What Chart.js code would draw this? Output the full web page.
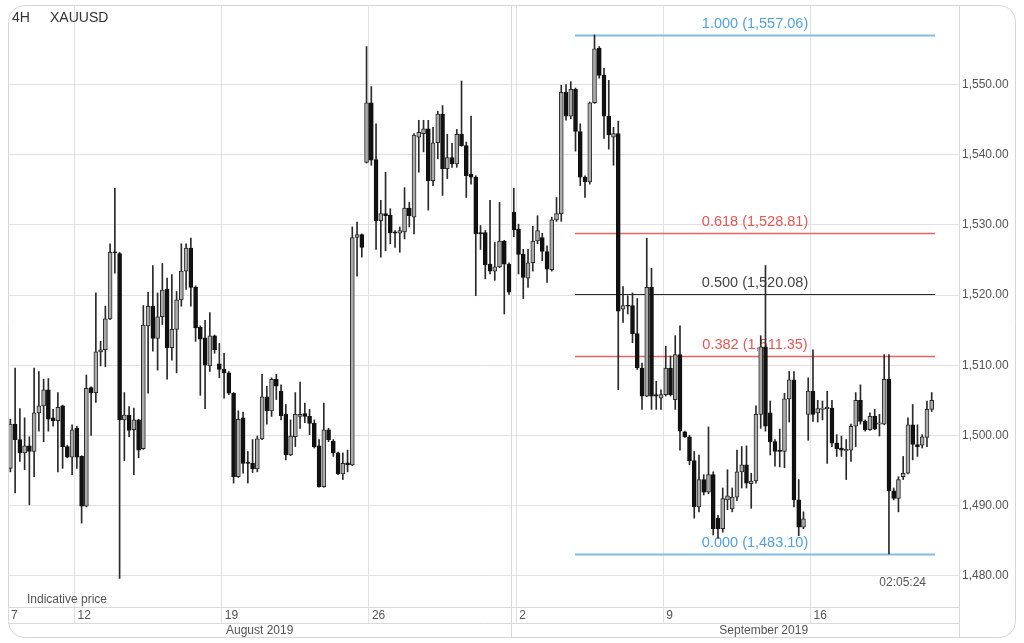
<!DOCTYPE html>
<html lang="en">
<head>
    <meta charset="UTF-8">
    <title>4H XAUUSD</title>
    <!-- Include Chart.js library -->
    <script src="https://cdn.jsdelivr.net/npm/chart.js"></script>
    <style>
        html, body { margin: 0; padding: 0; background: #fff; }
        #wrap { width: 1024px; height: 643px; }
    </style>
</head>
<body>
    <div id="wrap"><canvas id="chart" width="1024" height="643"></canvas></div>

    <script>
        // 4H candles, one entry per candle (index 0 = first candle on the left)
        const opens = [
            1495.3, 1501.6, 1499.4, 1497.5, 1498.5, 1497.7, 1503.2, 1504.2, 1506.5, 1502.5,
            1502.1, 1504.2, 1498.4, 1496.9, 1501.0, 1497.0, 1489.9, 1506.8, 1506.1, 1511.9,
            1512.2, 1516.6, 1526.1, 1525.9, 1502.2, 1502.9, 1500.8, 1502.2, 1498.1, 1515.6,
            1518.4, 1513.8, 1516.9, 1520.8, 1512.5, 1515.1, 1519.3, 1523.4, 1526.7, 1521.1,
            1515.4, 1513.9, 1509.9, 1514.2, 1510.2, 1509.4, 1508.9, 1506.0, 1494.1, 1502.5,
            1496.1, 1496.0, 1495.2, 1499.5, 1505.5, 1503.5, 1508.0, 1506.3, 1503.0, 1497.2,
            1499.8, 1502.7, 1503.1, 1502.7, 1501.7, 1498.5, 1492.7, 1500.8, 1499.2, 1497.5,
            1494.5, 1496.1, 1495.8, 1528.2, 1528.6, 1538.9, 1547.4, 1539.3, 1530.6, 1531.6,
            1531.4, 1529.0, 1528.8, 1529.0, 1532.4, 1531.1, 1542.5, 1543.0, 1543.7, 1536.3,
            1541.7, 1545.8, 1538.0, 1539.6, 1538.7, 1542.9, 1541.3, 1537.2, 1536.8, 1528.9,
            1528.9, 1524.4, 1523.4, 1524.0, 1527.7, 1524.4, 1531.8, 1529.4, 1525.8, 1522.4,
            1524.6, 1527.7, 1528.2, 1526.2, 1523.6, 1530.7, 1531.6, 1548.9, 1545.5, 1549.3,
            1543.3, 1536.8, 1536.1, 1547.4, 1555.2, 1551.3, 1545.5, 1542.5, 1543.0, 1518.0,
            1518.5, 1518.5, 1514.5, 1509.6, 1505.6, 1521.1, 1505.8, 1505.3, 1505.8, 1509.6,
            1505.1, 1511.5, 1500.5, 1499.8, 1496.4, 1489.8, 1493.7, 1491.9, 1494.4, 1488.2,
            1486.7, 1490.8, 1489.5, 1491.2, 1494.8, 1495.8, 1493.1, 1493.5, 1503.0, 1512.6,
            1503.2, 1499.1, 1497.9, 1497.7, 1505.2, 1507.9, 1490.8, 1486.9, 1503.0, 1506.3,
            1503.2, 1503.7, 1503.8, 1503.9, 1498.9, 1498.2, 1497.8, 1497.9, 1501.3, 1505.0,
            1502.0, 1500.8, 1502.7, 1501.6, 1501.6, 1508.0, 1492.1, 1491.0, 1494.1, 1494.6,
            1501.5, 1498.7, 1498.6, 1499.7, 1503.7
        ];
        const highs = [
            1502.3, 1509.6, 1503.8, 1502.5, 1499.8, 1509.6, 1509.1, 1508.0, 1508.1, 1503.7,
            1506.1, 1504.3, 1498.6, 1501.5, 1501.3, 1497.1, 1508.6, 1506.9, 1520.3, 1513.4,
            1518.4, 1527.3, 1535.2, 1526.1, 1506.1, 1504.1, 1503.9, 1502.3, 1518.5, 1520.4,
            1524.2, 1520.3, 1524.5, 1522.4, 1522.9, 1520.5, 1527.3, 1527.3, 1528.1, 1521.3,
            1515.6, 1516.4, 1517.5, 1514.3, 1513.1, 1511.7, 1509.1, 1506.1, 1503.5, 1503.3,
            1497.7, 1499.4, 1499.9, 1508.7, 1507.0, 1508.2, 1508.7, 1507.2, 1504.4, 1502.2,
            1506.1, 1507.6, 1504.6, 1503.7, 1502.2, 1499.4, 1504.6, 1501.0, 1499.4, 1497.6,
            1497.5, 1497.9, 1529.7, 1530.4, 1528.7, 1555.4, 1549.7, 1544.4, 1533.5, 1537.5,
            1532.3, 1529.2, 1529.7, 1535.3, 1533.2, 1543.0, 1544.9, 1544.9, 1544.9, 1543.9,
            1546.2, 1547.0, 1542.9, 1541.6, 1543.6, 1550.5, 1541.8, 1545.5, 1537.0, 1529.9,
            1529.2, 1533.5, 1527.5, 1533.2, 1527.8, 1524.6, 1535.2, 1530.1, 1526.5, 1526.5,
            1529.8, 1531.3, 1528.8, 1527.0, 1531.1, 1533.9, 1549.9, 1550.0, 1550.4, 1549.5,
            1544.4, 1537.0, 1547.5, 1557.06, 1555.4, 1552.3, 1550.6, 1543.9, 1544.8, 1521.2,
            1519.9, 1520.3, 1519.5, 1510.3, 1528.1, 1523.8, 1507.7, 1506.5, 1512.7, 1511.3,
            1514.2, 1515.6, 1500.6, 1500.0, 1497.7, 1497.2, 1494.4, 1501.2, 1494.8, 1488.6,
            1492.5, 1495.1, 1492.5, 1497.9, 1498.4, 1498.5, 1494.6, 1504.2, 1514.2, 1524.2,
            1504.9, 1499.4, 1500.9, 1506.0, 1509.1, 1509.1, 1493.7, 1489.1, 1508.2, 1512.2,
            1505.0, 1504.9, 1506.3, 1505.0, 1500.1, 1499.9, 1499.4, 1501.6, 1506.1, 1507.2,
            1502.2, 1503.2, 1503.7, 1503.0, 1511.5, 1511.5, 1492.5, 1494.1, 1497.0, 1502.5,
            1504.4, 1501.5, 1500.1, 1504.9, 1506.1
        ];
        const lows = [
            1494.8, 1491.8, 1496.3, 1495.1, 1490.1, 1494.1, 1500.6, 1499.1, 1500.6, 1501.3,
            1494.8, 1495.3, 1496.8, 1494.4, 1495.3, 1487.5, 1489.8, 1500.0, 1504.7, 1509.9,
            1509.8, 1516.5, 1523.1, 1479.6, 1496.4, 1499.8, 1494.4, 1496.8, 1498.0, 1506.0,
            1512.0, 1509.3, 1515.8, 1508.0, 1510.7, 1508.9, 1518.4, 1520.8, 1518.4, 1513.4,
            1505.7, 1503.8, 1509.1, 1511.7, 1508.2, 1505.3, 1505.8, 1493.2, 1494.0, 1494.6,
            1493.2, 1494.7, 1494.8, 1499.4, 1501.6, 1502.7, 1505.1, 1502.2, 1496.5, 1497.1,
            1498.4, 1501.0, 1501.8, 1500.1, 1498.2, 1492.6, 1492.6, 1499.1, 1497.0, 1494.4,
            1493.7, 1494.8, 1495.7, 1522.7, 1525.4, 1538.8, 1538.5, 1526.5, 1525.4, 1526.3,
            1527.3, 1526.8, 1526.1, 1528.0, 1529.7, 1528.7, 1537.5, 1540.4, 1532.1, 1535.6,
            1539.4, 1534.2, 1536.6, 1538.2, 1538.2, 1541.2, 1533.9, 1535.8, 1519.9, 1526.5,
            1522.3, 1523.0, 1522.1, 1523.9, 1517.3, 1520.1, 1528.3, 1523.0, 1519.5, 1521.1,
            1523.4, 1527.3, 1524.9, 1521.8, 1523.4, 1530.5, 1530.5, 1544.9, 1545.1, 1540.5,
            1535.6, 1533.9, 1535.8, 1547.3, 1550.9, 1542.3, 1540.8, 1538.5, 1506.5, 1516.1,
            1517.3, 1513.2, 1509.4, 1503.7, 1505.5, 1503.7, 1503.7, 1503.7, 1505.6, 1505.6,
            1503.7, 1497.9, 1499.7, 1495.8, 1488.2, 1489.1, 1491.5, 1491.7, 1485.8, 1485.3,
            1486.2, 1489.4, 1489.1, 1490.7, 1492.5, 1492.5, 1489.6, 1493.2, 1501.0, 1500.6,
            1497.2, 1495.6, 1495.5, 1495.4, 1501.9, 1489.8, 1485.7, 1486.7, 1499.3, 1502.0,
            1501.9, 1502.2, 1496.0, 1498.4, 1497.0, 1497.0, 1493.7, 1496.3, 1498.4, 1501.6,
            1500.6, 1500.7, 1500.8, 1499.9, 1501.5, 1483.1, 1490.8, 1489.1, 1493.7, 1494.5,
            1496.5, 1497.0, 1498.2, 1498.4, 1503.4
        ];
        const closes = [
            1501.6, 1499.4, 1497.5, 1498.5, 1497.7, 1503.2, 1504.2, 1506.5, 1502.3, 1502.1,
            1504.0, 1498.4, 1496.9, 1500.8, 1496.9, 1489.9, 1506.7, 1506.1, 1511.9, 1512.2,
            1516.6, 1526.1, 1526.0, 1502.2, 1502.9, 1500.7, 1502.2, 1497.9, 1515.7, 1518.4,
            1513.8, 1516.9, 1520.7, 1512.5, 1515.1, 1519.3, 1523.4, 1526.7, 1521.1, 1515.3,
            1513.7, 1510.0, 1514.2, 1512.2, 1509.4, 1508.9, 1506.0, 1494.1, 1502.3, 1496.0,
            1496.0, 1495.2, 1499.5, 1505.5, 1503.5, 1508.0, 1507.0, 1502.8, 1497.2, 1499.9,
            1503.0, 1503.0, 1502.7, 1501.7, 1498.4, 1492.7, 1500.8, 1499.4, 1497.5, 1494.5,
            1496.0, 1495.8, 1528.2, 1528.6, 1526.8, 1547.4, 1539.2, 1530.6, 1531.6, 1531.3,
            1528.9, 1528.8, 1529.2, 1532.4, 1531.3, 1542.8, 1543.2, 1543.7, 1536.3, 1541.7,
            1545.8, 1538.0, 1539.6, 1538.7, 1542.9, 1541.3, 1537.0, 1536.8, 1528.7, 1528.7,
            1524.3, 1523.4, 1524.0, 1527.7, 1524.4, 1520.4, 1529.3, 1525.8, 1522.5, 1524.6,
            1527.7, 1529.2, 1526.2, 1523.7, 1530.7, 1531.6, 1548.9, 1545.5, 1549.3, 1543.3,
            1536.8, 1536.1, 1547.4, 1555.1, 1551.3, 1545.5, 1542.8, 1543.0, 1517.7, 1518.5,
            1518.4, 1514.5, 1509.6, 1505.6, 1521.1, 1505.6, 1505.6, 1505.8, 1509.6, 1505.8,
            1511.5, 1500.6, 1499.8, 1496.4, 1489.8, 1493.7, 1491.9, 1494.4, 1486.7, 1486.7,
            1491.0, 1491.4, 1491.2, 1494.8, 1495.8, 1493.2, 1493.5, 1503.0, 1512.6, 1501.3,
            1499.1, 1497.7, 1497.7, 1505.2, 1507.9, 1490.8, 1486.9, 1488.1, 1506.3, 1503.0,
            1503.8, 1503.9, 1504.0, 1498.9, 1498.1, 1497.9, 1498.0, 1501.3, 1505.0, 1502.0,
            1500.8, 1502.7, 1500.9, 1501.8, 1508.0, 1492.1, 1491.0, 1493.7, 1494.6, 1501.5,
            1498.7, 1498.4, 1499.8, 1503.7, 1505.0
        ];

        // Day separators (candle index where each day label starts) and labels
        const dayTicks = [-0.5, 13.5, 44.5, 75.5, 106.5, 137.5, 168.5];
        const dayLabels = ['7', '12', '19', '26', '2', '9', '16'];
        // Month boundary (between Aug 31 and the Sep 1 candle)
        const monthBreaks = [105.5];
        const monthLabels = ['August 2019', 'September 2019'];

        // Price axis ticks
        const priceTicks = [1480, 1490, 1500, 1510, 1520, 1530, 1540, 1550];

        // Fibonacci retracement
        const fibHigh = 1557.06;
        const fibLow = 1483.10;
        const fibRatios = [1, 0.618, 0.5, 0.382, 0];
        const fibFrom = 118.9;   // candle index where the levels start
        const fibTo = 194.7;     // candle index where they end

        // Styling
        const FONT = '"Liberation Sans", Arial, sans-serif';
        const gridColor = '#e2e2e2';
        const fibLineColors = ['#82bbe6', '#e86464', '#2a2a2a', '#e86464', '#82bbe6'];
        const fibTextColors = ['#55a2db', '#e45757', '#444444', '#e45757', '#55a2db'];
        const fibWidths = [2, 1.5, 1, 1.5, 2];

        const fmt = v => v.toLocaleString('en-US', { minimumFractionDigits: 2, maximumFractionDigits: 2 });

        // Build floating-bar data for bodies and wicks
        const bodies = opens.map((o, i) => ({ x: i, y: [Math.min(o, closes[i]), Math.max(o, closes[i])] }));
        const wicks = lows.map((l, i) => ({ x: i, y: [l, highs[i]] }));
        const bodyFill = opens.map((o, i) => closes[i] >= o ? '#ababab' : '#111111');
        const bodyEdge = opens.map((o, i) => closes[i] >= o ? '#2a2a2a' : '#111111');

        // Fib levels, labels and the frame around the chart
        const decor = {
            id: 'decor',
            beforeDatasetsDraw(chart) {
                const { ctx, chartArea: a, scales: { x, y } } = chart;
                ctx.save();
                const x1 = x.getPixelForValue(fibFrom);
                const x2 = x.getPixelForValue(fibTo);
                ctx.font = '14.5px ' + FONT;
                ctx.textAlign = 'center';
                ctx.textBaseline = 'alphabetic';
                fibRatios.forEach((r, k) => {
                    const price = fibLow + (fibHigh - fibLow) * r;
                    const py = Math.round(y.getPixelForValue(price)) + 0.5;
                    ctx.strokeStyle = fibLineColors[k];
                    ctx.lineWidth = fibWidths[k];
                    ctx.beginPath();
                    ctx.moveTo(x1, py);
                    ctx.lineTo(x2, py);
                    ctx.stroke();
                    ctx.fillStyle = fibTextColors[k];
                    ctx.fillText(r.toFixed(3) + ' (' + fmt(price) + ')', (x1 + x2) / 2, py - 8);
                });

                // small texts inside the plot
                ctx.fillStyle = '#333';
                ctx.font = '14px ' + FONT;
                ctx.textAlign = 'left';
                ctx.textBaseline = 'middle';
                ctx.fillText('4H', a.left + 4, a.top + 13);
                ctx.fillText('XAUUSD', a.left + 42, a.top + 13);
                ctx.fillStyle = '#555';
                ctx.font = '12px ' + FONT;
                ctx.fillText('Indicative price', a.left + 19, a.bottom - 7);
                ctx.textAlign = 'right';
                ctx.fillText('02:05:24', a.right - 33, a.bottom - 24);
                ctx.restore();
            },
            afterDraw(chart) {
                const { ctx, chartArea: a, scales: { x } } = chart;
                const W = chart.width;
                const dayBottom = a.bottom + 16;
                const monthBottom = a.bottom + 30;
                ctx.save();
                ctx.strokeStyle = '#dadada';
                ctx.lineWidth = 1;
                const line = (x0, y0, x1, y1) => {
                    ctx.beginPath(); ctx.moveTo(x0, y0); ctx.lineTo(x1, y1); ctx.stroke();
                };
                // line between day row and month row
                line(a.left, dayBottom + 0.5, a.right, dayBottom + 0.5);
                // month separators
                monthBreaks.forEach(v => {
                    const px = Math.round(x.getPixelForValue(v)) + 0.5;
                    line(px, a.top, px, monthBottom);
                });
                // price axis edge down to the bottom
                line(Math.round(a.right) + 0.5, a.bottom, Math.round(a.right) + 0.5, monthBottom);

                // month labels
                const edges = [a.left, ...monthBreaks.map(v => x.getPixelForValue(v)), W - 8];
                ctx.fillStyle = '#555';
                ctx.font = '12px ' + FONT;
                ctx.textAlign = 'center';
                ctx.textBaseline = 'middle';
                monthLabels.forEach((t, i) => ctx.fillText(t, (edges[i] + edges[i + 1]) / 2, dayBottom + 8));

                // rounded outer frame
                ctx.strokeStyle = '#d6d6d6';
                ctx.beginPath();
                ctx.roundRect(8.5, 5.5, W - 17, monthBottom - 5, 16);
                ctx.stroke();
                ctx.restore();
            }
        };

        new Chart(document.getElementById('chart').getContext('2d'), {
            type: 'bar',
            data: {
                datasets: [
                    {
                        label: 'body',
                        data: bodies,
                        order: 0,
                        grouped: false,
                        barThickness: 4,
                        minBarLength: 1,
                        borderWidth: 1,
                        borderSkipped: false,
                        backgroundColor: bodyFill,
                        borderColor: bodyEdge
                    },
                    {
                        label: 'wick',
                        data: wicks,
                        order: 1,
                        grouped: false,
                        barThickness: 1,
                        minBarLength: 1,
                        backgroundColor: '#2a2a2a'
                    }
                ]
            },
            options: {
                responsive: false,
                animation: false,
                events: [],
                layout: { padding: { left: 8, top: 5, right: 0, bottom: 20 } },
                plugins: {
                    legend: { display: false },
                    tooltip: { enabled: false }
                },
                scales: {
                    x: {
                        type: 'linear',
                        min: -0.5,
                        max: 199.75,
                        offset: false,
                        afterBuildTicks: s => { s.ticks = dayTicks.map(v => ({ value: v })); },
                        afterFit: s => { s.height = 16; s.paddingLeft = 0; s.paddingRight = 0; },
                        grid: {
                            offset: false,
                            color: c => c.index === 0 ? 'rgba(0,0,0,0)' : gridColor,
                            tickLength: 16
                        },
                        border: { color: '#dadada' },
                        ticks: {
                            align: 'start',
                            labelOffset: 3,
                            padding: -15,
                            autoSkip: false,
                            maxRotation: 0,
                            color: '#555',
                            font: { family: FONT, size: 12 },
                            callback: (v, i) => dayLabels[i]
                        }
                    },
                    y: {
                        position: 'right',
                        min: 1475.54,
                        max: 1561.33,
                        afterBuildTicks: s => { s.ticks = priceTicks.map(v => ({ value: v })); },
                        afterFit: s => { s.width = 65; s.paddingTop = 0; s.paddingBottom = 0; },
                        grid: { color: gridColor, drawTicks: false },
                        border: { color: '#dadada' },
                        ticks: {
                            padding: 3,
                            color: '#555',
                            font: { family: FONT, size: 12 },
                            callback: v => fmt(v)
                        }
                    }
                }
            },
            plugins: [decor]
        });
    </script>
</body>
</html>
